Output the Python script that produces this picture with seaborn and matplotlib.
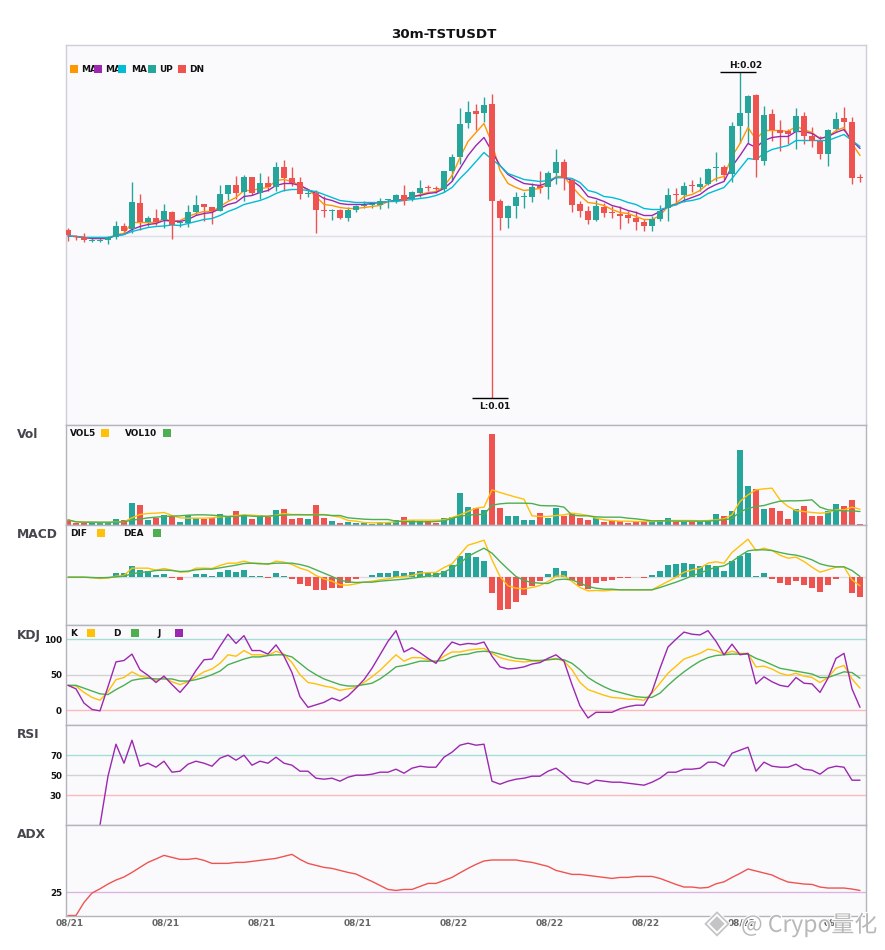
import matplotlib
matplotlib.use('Agg')
import matplotlib.pyplot as plt
import matplotlib.patheffects as pe
from matplotlib.patches import Rectangle
import numpy as np
import seaborn as sns

# Candles, in units above the flat reference line of the price panel
open_px = [6, 0, -1.5, -5.7, -5.7, -4, -1.5, 10, 6.3, 33,
           14, 18, 16, 24, 13, 13, 24, 32, 29, 25,
           42, 51, 44, 59, 43, 53, 49, 69, 58, 54,
           42, 43, 26, 25, 26, 18, 26, 30, 31, 31,
           36, 35, 41, 37, 43, 48.5, 47.5, 47, 65, 79,
           113, 125, 123, 132, 35, 18, 30, 39, 39, 50,
           49, 63, 74, 56, 32, 25, 16, 29, 23.5, 22,
           21, 18, 14, 10, 17, 28, 41.5, 41, 50.5, 49,
           52, 68, 69, 62, 110, 123, 141, 75, 122, 106,
           105, 104, 120, 100, 95, 82, 107, 118, 114, 58.5]
close_px = [0.3, -1, -4, -5, -5, -1.5, 10, 5, 34, 14,
            18, 14, 25, 11, 14, 24, 31, 29, 25, 42,
            51, 43, 59, 43, 53, 49, 69, 58, 53, 42,
            43, 26, 25, 26, 18, 26, 30, 31, 31.5, 35,
            36.5, 41, 35, 44, 48, 48, 47, 65, 79, 112,
            124, 122, 131, 35, 18, 30, 39, 39.5, 49, 48,
            63, 74, 58, 31, 25, 16, 30, 23, 23, 20,
            18, 14, 10, 17, 25, 41, 41, 50, 50, 52,
            67, 68.5, 61, 110, 123, 140, 76, 121, 106, 103,
            102, 120, 100, 95, 82, 106, 117, 114, 58, 58]
high_px = [7.6, 1, 3, -1.5, -1.5, 0, 14.5, 12.7, 54, 42,
           20, 27, 32, 25, 15, 31, 41, 32, 29, 51,
           51, 60, 61, 59, 63, 60, 74, 76, 69, 59,
           46, 46, 40, 27, 27, 29, 31, 35, 34, 38,
           37, 42, 51, 45, 56, 51, 50, 65, 82, 128,
           135, 132, 139, 142, 37, 31, 44, 44, 53, 65,
           65, 87, 77, 57, 35, 30, 36, 33, 30, 30,
           25, 25, 17, 20, 31, 48, 48, 54, 56, 59,
           68, 84, 71, 114, 164, 141, 142, 130, 127, 116,
           107, 128, 124, 109, 100, 107, 124, 129, 119, 62]
low_px = [-5.6, -4, -6, -6, -6, -8, -3.5, 1.3, 2.7, 6,
          10, 11, 8, -3, 9, 9, 21, 15, 12, 25,
          36, 37, 35, 41, 37, 45, 45, 45, 50, 37,
          39, 3, 19, 16, 17, 15, 24, 28, 28, 27,
          28, 33, 31, 35, 39, 45, 43, 44, 55, 72,
          108, 106, 114, -162, 6, 8, 18, 28, 34, 43,
          37, 52, 46, 24, 19, 12, 15, 19, 18, 7,
          13, 6, 5, 5, 15, 15, 31, 34, 44, 45,
          51, 55, 56, 54, 93, 93, 59, 71, 95, 85,
          92, 87, 92, 89, 77, 70, 105, 105, 52, 54]

ma5 = [-0.5, -1, -2, -3, -3, -3, 1, 2, 13, 13,
       13, 13, 17, 14, 15, 19, 22, 24, 24, 29,
       34, 38, 45, 45, 47, 48, 55, 56, 54, 50,
       46, 39, 31, 30, 28, 27, 27, 28, 29, 30,
       34, 35, 36, 38, 41, 43, 44, 49, 60, 78,
       94, 103, 112, 92, 65, 52, 48, 45, 46, 47,
       52, 59, 59, 49, 40, 33, 32, 30, 26, 23,
       22, 19, 16, 16, 20, 29, 32, 39, 41, 45,
       52, 57, 59, 79, 92, 108, 96, 105, 105, 105,
       104, 109, 106, 103, 97, 99, 105, 108, 92, 80]
ma10 = [-0.5, -1, -2, -3, -3, -3, 0, 1, 6, 9,
        11, 12, 15, 14.5, 14, 16, 20, 22, 23, 27,
        31, 33, 39, 40, 43, 45, 50, 52, 52, 50,
        46, 42, 37, 35, 32, 31, 31, 31, 32, 33,
        34, 35, 36, 39, 40, 42, 43, 47, 54, 67,
        80, 90, 98, 84, 70, 61, 56, 52, 51, 50,
        53, 58, 58, 55, 49, 39, 37, 34, 30, 28,
        25, 23, 20, 20, 24, 29, 31, 35, 38, 41,
        47, 51, 54, 69, 80, 92, 88, 95, 98, 99,
        99, 104, 104, 102, 97, 99, 103, 106, 95, 87]
ma20 = [-0.5, -1, -2, -2, -2, -2, 0, 1, 4, 6,
        8, 9, 9.5, 10.5, 10, 12, 14, 16, 17, 20,
        24, 27, 31, 33, 35, 38, 42, 45, 46, 46,
        45, 44, 41, 38, 35, 34, 33, 33, 33, 33,
        34, 34, 35, 36, 37, 38, 40, 43, 48, 57,
        65, 74, 83, 76, 70, 62, 59, 56, 55, 54,
        55, 58, 58, 57, 53, 45, 43, 39, 38, 36,
        33, 31, 27, 26, 26, 28, 31, 34, 35, 37,
        42, 45, 48, 57, 67, 77, 76, 82, 86, 88,
        90, 95, 95, 95, 95, 95, 98, 101, 95, 89]

volume = [14, 6, 6, 6, 6, 4, 17, 14, 65, 59,
          14, 20, 29, 26, 8, 29, 20, 17, 20, 32,
          23, 41, 26, 17, 29, 23, 44, 47, 17, 20,
          17, 59, 20, 11, 5, 8, 5, 5, 3, 8,
          8, 14, 23, 14, 11, 11, 5, 20, 23, 95,
          53, 50, 44, 272, 50, 26, 26, 14, 14, 35,
          20, 50, 26, 32, 20, 14, 20, 8, 11, 11,
          5, 8, 8, 8, 14, 20, 8, 8, 8, 8,
          14, 32, 26, 41, 224, 116, 107, 47, 50, 41,
          17, 47, 56, 26, 26, 41, 62, 56, 74, 2]
vol5 = [14, 8, 7, 7, 6, 6, 8, 8, 20, 30,
        33, 34, 36, 27, 20, 19, 19, 19, 20, 23,
        24, 27, 29, 28, 26, 24, 28, 33, 30, 30,
        29, 30, 30, 26, 22, 12, 10, 6, 5, 5,
        6, 8, 12, 13, 13, 13, 13, 14, 21, 29,
        39, 49, 52, 104, 96, 89, 82, 76, 26, 24,
        24, 27, 29, 34, 31, 27, 19, 14, 12, 10,
        10, 9, 9, 9, 10, 12, 12, 12, 12, 11,
        12, 14, 17, 29, 69, 89, 104, 107, 109, 74,
        54, 42, 39, 36, 34, 36, 44, 44, 52, 46]
vol10 = [14, 8, 7, 7, 7, 7, 7, 8, 13, 16,
         20, 22, 24, 25, 26, 28, 29, 29, 28, 26,
         24, 24, 27, 25, 24, 25, 27, 28, 29, 29,
         29, 29, 29, 27, 27, 20, 18, 16, 15, 15,
         15, 10, 9, 8, 8, 8, 9, 11, 18, 25,
         28, 30, 30, 58, 62, 64, 64, 64, 63, 57,
         56, 56, 52, 28, 26, 26, 23, 22, 22, 22,
         19, 17, 14, 11, 11, 11, 10, 10, 10, 10,
         10, 12, 14, 18, 38, 48, 54, 57, 64, 70,
         71, 71, 72, 74, 52, 44, 42, 41, 41, 39]

macd_hist = [0, 0, 0, 0, -4, 0, 12, 12, 33, 21,
             18, 6, 9, -1, -8, 0, 9, 9, 3, 15,
             21, 15, 21, 3, 3, -2, 12, 3, -5, -20,
             -26, -38, -38, -32, -32, -17, -5, 0, 6, 12,
             12, 18, 12, 15, 18, 12, 12, 20, 36, 63,
             72, 60, 48, -47, -98, -95, -74, -53, -26, -11,
             9, 27, 18, -9, -26, -35, -17, -11, -8, -2,
             -2, 0, -1, 6, 18, 36, 39, 42, 39, 33,
             38, 33, 18, 50, 63, 72, 3, 12, -5, -17,
             -23, -11, -23, -32, -44, -23, -5, 0, -47, -59]
dif = [0, 0, 0, -2, -4, -3, 3, 5, 27, 27,
       27, 21, 26, 21, 15, 16, 27, 27, 26, 35,
       42, 42, 48, 42, 42, 38, 48, 45, 38, 27,
       20, 5, -5, -12, -23, -24, -20, -15, -12, -8,
       -5, 0, 2, 5, 12, 14, 14, 29, 40, 68,
       96, 103, 111, 52, 2, -26, -33, -35, -31, -25,
       -13, 3, 4, -13, -31, -41, -40, -41, -39, -38,
       -38, -38, -38, -38, -25, -13, 0, 15, 22, 27,
       42, 46, 42, 74, 94, 114, 80, 87, 80, 66,
       57, 60, 47, 30, 15, 22, 30, 31, -8, -26]
dea = [0, 0, 0, -1, -2, -1, 1, 3, 10, 14,
       16, 20, 21, 20, 17, 18, 22, 24, 24, 28,
       32, 36, 41, 42, 40, 40, 42, 42, 42, 38,
       32, 22, 12, 2, -9, -14, -16, -15, -15, -12,
       -10, -8, -6, -3, 0, 3, 5, 15, 27, 42,
       62, 75, 87, 72, 47, 24, 2, -10, -16, -18,
       -19, -8, -6, -8, -18, -28, -33, -36, -36, -38,
       -38, -38, -38, -38, -31, -23, -15, -6, 4, 12,
       22, 30, 34, 47, 64, 79, 82, 82, 80, 74,
       69, 66, 60, 52, 40, 34, 31, 31, 20, 2]

kdj_k = [35, 34, 25, 18, 14, 26, 43, 46, 54, 48,
         46, 42, 46, 40, 36, 40, 47, 54, 58, 66,
         78, 76, 84, 78, 78, 77, 83, 79, 67, 50,
         39, 37, 34, 32, 28, 30, 32, 39, 47, 56,
         67, 78, 69, 74, 74, 71, 68, 76, 82, 82,
         84.5, 86, 87, 80, 74, 71, 69, 68, 69, 69,
         71, 73, 69, 57, 39, 29, 25, 21, 18, 17,
         15.5, 15.5, 14, 24, 38, 52, 62, 72, 76, 80,
         86, 84, 79, 83, 80, 80, 61, 62, 58, 52,
         49, 52, 48, 46, 39, 46, 59, 63, 44, 31]
kdj_d = [35, 35, 31, 27, 23, 22, 29, 35, 42, 44,
         45, 44, 44, 44, 41, 41, 43, 46, 50, 55,
         64, 68, 72, 75, 75, 77, 78, 78, 75, 66,
         57, 50, 44, 40, 36, 34, 34, 36, 38, 44,
         52, 61, 63, 66, 69, 69, 69, 70, 75, 78,
         79, 82, 83, 82, 79, 76, 73, 72, 70, 70,
         71, 72, 71, 66, 57, 46, 39, 33, 28, 25,
         22, 19, 18, 18, 24, 35, 45, 54, 62, 69,
         74, 77, 78, 79, 79, 79, 73, 69, 64, 59,
         57, 55, 53, 51, 46, 46, 50, 54, 53, 45]
kdj_j = [35, 30, 10, 1, -1, 33, 68, 70, 79, 57,
         49, 39, 48, 36, 25, 38, 56, 71, 72, 90,
         107, 94, 105, 84, 84, 79, 92, 76, 53, 19,
         4, 7.5, 11, 17, 13, 20, 31, 43, 59, 78,
         97, 112, 82, 88, 81, 73, 66, 83, 96, 92,
         94, 93, 96, 76, 61, 58, 59, 61, 65, 67,
         73, 78, 69, 36, 6, -11, -3, -3, -3, 2,
         5, 7, 7, 26, 59, 89, 100, 110, 107, 106,
         112, 97, 78, 93, 78, 80, 37, 47, 40, 35,
         33, 46, 38, 37, 25, 45, 73, 80, 30, 4]

# first values are not defined yet, the line comes up from the axis floor
rsi = [np.nan, np.nan, np.nan, np.nan, 0, 49, 81, 62, 85, 59,
       62, 58, 64, 53, 54, 61, 64, 62, 59, 67,
       70, 65, 70, 60, 64, 62, 68, 62, 60, 54,
       54, 47, 46, 47, 44, 48, 50, 50, 51, 53,
       53, 56, 52, 57, 59, 58, 58, 68, 73, 80,
       82, 80, 81, 44, 41, 44, 46, 47, 49, 49,
       54, 57, 51, 44, 43, 41, 45, 44, 43, 43,
       42, 41, 40, 43, 47, 53, 53, 56, 56, 57,
       63, 63, 59, 72, 75, 78, 54, 63, 59, 58,
       58, 61, 56, 55, 51, 57, 59, 58, 45, 45]

adx = [13.5, 13.5, 20, 24.7, 26.8, 29.2, 31.2, 32.7, 35, 37.5,
       40, 41.7, 43.5, 42.5, 41.5, 41.5, 42, 41, 39.5, 39.5,
       39.5, 40, 40, 40.5, 41, 41.5, 42, 43, 44, 41.5,
       39.5, 38.5, 37.5, 37, 36, 35, 34.2, 32.3, 30.5, 28.5,
       26.5, 26, 26.5, 26.5, 28, 29.5, 29.5, 31, 32.5, 34.8,
       37, 39, 40.7, 41.2, 41.2, 41.2, 41.2, 40.5, 40, 39,
       38, 36, 35, 34, 34, 33.5, 33, 32.5, 32, 32.5,
       32.5, 33, 33, 33, 32, 30.5, 29, 27.7, 27.7, 27.2,
       27.5, 29.3, 30.3, 32.5, 34.5, 36.7, 35.7, 34.7, 33.7, 31.8,
       30.2, 29.7, 29.2, 29, 27.7, 27.2, 27.2, 27.2, 26.7, 26]

tick_index = [0, 12, 24, 36, 48, 60, 72, 84, 96]
tick_labels = ['08/21', '08/21', '08/21', '08/21', '08/22', '08/22', '08/22', '08/22', '08/23']

UP = '#26a69a'
DN = '#ef5350'
BG = '#fafafd'
W, H = 885, 950

sns.set_theme(style='white')
plt.rcParams['font.family'] = ['DejaVu Sans']

fig = plt.figure(figsize=(W / 100, H / 100), dpi=100, facecolor='white')
index = np.arange(len(close_px))


def make_panel(top, bottom, ylim, spine='#b4b4bc'):
    ax = fig.add_axes([65.5 / W, 1 - bottom / H, 800.5 / W, (bottom - top) / H])
    ax.set_facecolor(BG)
    ax.set_xlim(-0.31, 99.75)
    ax.set_ylim(*ylim)
    ax.set_xticks([])
    ax.set_yticks([])
    for side in ax.spines.values():
        side.set_color(spine)
        side.set_linewidth(1.0)
    return ax


def add_line(ax, values, color, lw=1.0):
    sns.lineplot(x=index, y=values, color=color, linewidth=lw, errorbar=None, ax=ax)
    ax.set_xlabel('')
    ax.set_ylabel('')


def add_bars(ax, values, colors):
    sns.barplot(x=index, y=values, hue=colors, palette={'up': UP, 'dn': DN}, dodge=False,
                native_scale=True, width=0.75, errorbar=None, legend=False, saturation=1,
                linewidth=0, edgecolor='none', ax=ax)
    ax.set_xlabel('')
    ax.set_ylabel('')
    ax.set_xlim(-0.31, 99.75)


def legend_entries(y, texts, squares):
    # hand placed legend like the source chart, squares sit above the text
    for x, label in texts:
        fig.text(x / W, 1 - y / H, label, fontsize=6.4, fontweight='bold', color='#111111',
                 ha='left', va='center')
    for x, color in squares:
        fig.add_artist(Rectangle((x / W, 1 - (y + 4) / H), 8 / W, 8 / H, facecolor=color,
                                 edgecolor='none', transform=fig.transFigure, zorder=5))


def panel_label(y, label):
    fig.text(17 / W, 1 - y / H, label, fontsize=8.8, fontweight='bold', color='#45454d',
             ha='left', va='center')


def level_lines(ax, levels, colors):
    for level, color in zip(levels, colors):
        ax.axhline(level, color=color, linewidth=1.0, zorder=1)
    ax.set_yticks(levels)
    ax.set_yticklabels([str(v) for v in levels], fontsize=6.3, fontweight='bold', color='#111111')
    ax.tick_params(axis='y', length=0, pad=2.5)


# price panel
ax_main = make_panel(45, 424.5, (-189, 190.5), spine='#cfcfd9')
ax_main.axhline(0, color='#dedee6', linewidth=1.0, zorder=1)
candle_colors = [UP if c >= o else DN for o, c in zip(open_px, close_px)]
ax_main.vlines(index, low_px, high_px, colors=candle_colors, linewidth=1.0, zorder=2)
body_bottom = np.minimum(open_px, close_px)
body_height = np.maximum(np.abs(np.subtract(close_px, open_px)), 1.0)
ax_main.bar(index, body_height, bottom=body_bottom, width=0.75, color=candle_colors,
            linewidth=0, edgecolor='none', zorder=3)
add_line(ax_main, ma5, '#ff9800')
add_line(ax_main, ma10, '#9c27b0')
add_line(ax_main, ma20, '#00bcd4')

top_i = int(np.argmax(high_px))
low_i = int(np.argmin(low_px))
ax_main.hlines(high_px[top_i], top_i - 2.5, top_i + 2, color='black', linewidth=1.0, zorder=4)
ax_main.hlines(low_px[low_i], low_i - 2.5, low_i + 2, color='black', linewidth=1.0, zorder=4)
ax_main.annotate('H:0.02', (top_i, high_px[top_i]), xytext=(4, 4.5), textcoords='offset points',
                 fontsize=6.5, fontweight='bold', color='#111111', ha='center', va='center')
ax_main.annotate('L:0.01', (low_i, low_px[low_i]), xytext=(2, -6.5), textcoords='offset points',
                 fontsize=6.5, fontweight='bold', color='#111111', ha='center', va='center')
fig.text(443.5 / W, 1 - 34.5 / H, '30m-TSTUSDT', fontsize=9.6, fontweight='bold', color='#111111',
         ha='center', va='center')
legend_entries(69, [(81, 'MA'), (105, 'MA'), (131, 'MA'), (159, 'UP'), (189, 'DN')],
               [(70, '#ff9800'), (94, '#9c27b0'), (118, '#00bcd4'), (148, UP), (178, DN)])

# volume panel
ax_vol = make_panel(424.5, 524.5, (0, 300))
add_bars(ax_vol, volume, ['up' if c == UP else 'dn' for c in candle_colors])
add_line(ax_vol, vol5, '#ffc107')
add_line(ax_vol, vol10, '#4caf50')
panel_label(435, 'Vol')
legend_entries(433, [(70, 'VOL5'), (125, 'VOL10')], [(101, '#ffc107'), (163, '#4caf50')])

# macd panel
ax_macd = make_panel(524.5, 624.5, (-142, 158))
ax_macd.axhline(0, color='#dcdce0', linewidth=1.0, zorder=1)
add_bars(ax_macd, macd_hist, ['up' if v >= 0 else 'dn' for v in macd_hist])
add_line(ax_macd, dif, '#ffc107')
add_line(ax_macd, dea, '#4caf50')
panel_label(535, 'MACD')
legend_entries(533, [(70, 'DIF'), (123, 'DEA')], [(97, '#ffc107'), (153, '#4caf50')])

# kdj panel
ax_kdj = make_panel(624.5, 724.5, (-20.2, 120.7))
level_lines(ax_kdj, [0, 50, 100], ['#ffb9b9', '#d2d2d6', '#a8dcd8'])
add_line(ax_kdj, kdj_k, '#ffc107')
add_line(ax_kdj, kdj_d, '#4caf50')
add_line(ax_kdj, kdj_j, '#9c27b0')
panel_label(635, 'KDJ')
legend_entries(633, [(70, 'K'), (113, 'D'), (157, 'J')],
               [(87, '#ffc107'), (131, '#4caf50'), (175, '#9c27b0')])

# rsi panel
ax_rsi = make_panel(724.5, 824.5, (0.7, 100.7))
level_lines(ax_rsi, [30, 50, 70], ['#ffb9b9', '#d2d2d6', '#a8dcd8'])
add_line(ax_rsi, rsi, '#9c27b0')
panel_label(735, 'RSI')

# adx panel
ax_adx = make_panel(824.5, 915.5, (13.5, 58.9))
level_lines(ax_adx, [25], ['#dcb4e2'])
add_line(ax_adx, adx, '#ef5350')
ax_adx.set_xticks(np.array(tick_index) + 0.25)
ax_adx.set_xticklabels(tick_labels, fontsize=6.5, fontweight='bold', color='#666666')
ax_adx.tick_params(axis='x', length=0, pad=2)
panel_label(835, 'ADX')

# watermark
halo = [pe.withStroke(linewidth=1.5, foreground='white')]
fig.text(717 / W, 1 - 923 / H, '\u25c8', fontsize=24, color='#c4c4c4', ha='center', va='center',
         family=['DejaVu Sans'], path_effects=halo, zorder=6)
fig.text(741 / W, 1 - 925 / H, '@ Crypo量化', fontsize=16.5, color='#b8b8b8', ha='left', va='center',
         family=['Noto Sans CJK SC', 'DejaVu Sans'], path_effects=halo, zorder=6)

fig.savefig('out.png', dpi=100, facecolor='white')
